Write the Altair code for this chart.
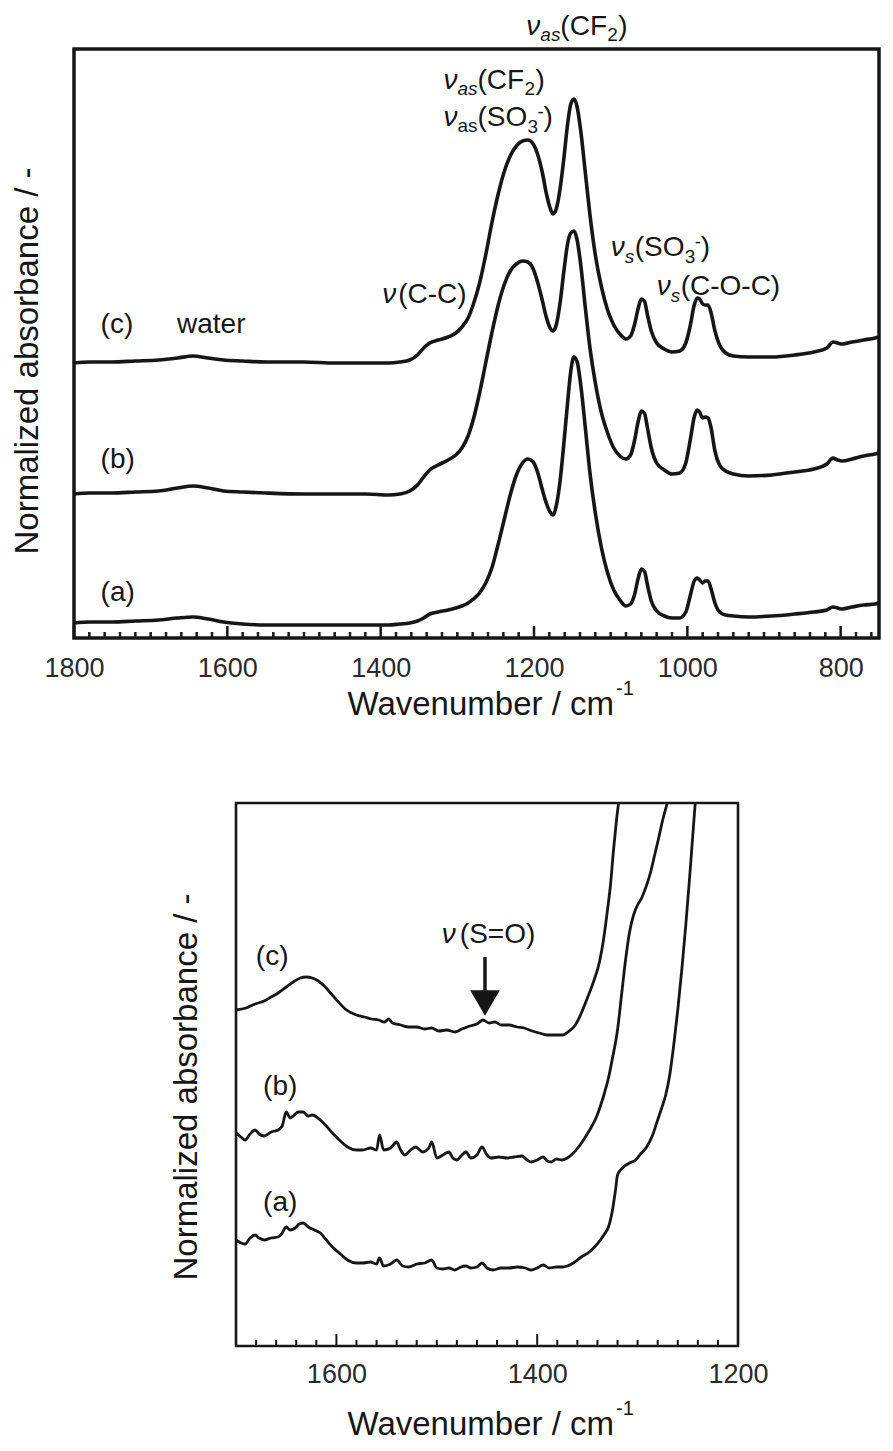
import altair as alt
import pandas as pd

FONT = "Liberation Sans"
INK = "#161616"
LABEL_INK = "#2a2a2a"

# ---------------- top panel (full range) ----------------
TOP_WN = [1800, 1780, 1750, 1720, 1690, 1665, 1645, 1625, 1605, 1580, 1550, 1500, 1460, 1420,
          1390, 1375, 1362, 1352, 1344, 1336, 1325, 1312, 1302, 1294, 1286, 1279, 1271, 1263,
          1255, 1247, 1239, 1231, 1223, 1215, 1208, 1201, 1195, 1189, 1184, 1179, 1175, 1171,
          1166, 1161, 1156, 1152, 1148, 1144, 1139, 1133, 1127, 1120, 1112, 1104, 1096, 1088,
          1080, 1074, 1069, 1064, 1060, 1056, 1052, 1047, 1040, 1030, 1020, 1010, 1002, 996,
          991, 987, 984, 980, 977, 973, 969, 964, 958, 950, 940, 920, 890, 860, 835, 818, 810,
          804, 798, 785, 770, 755, 750]

TOP_C = [2.75, 2.76, 2.76, 2.77, 2.78, 2.80, 2.82, 2.80, 2.78, 2.77, 2.76, 2.76, 2.75, 2.75,
         2.75, 2.76, 2.78, 2.83, 2.90, 2.95, 2.98, 3.01, 3.05, 3.11, 3.20, 3.34, 3.55, 3.83,
         4.15, 4.43, 4.66, 4.82, 4.92, 4.97, 4.98, 4.94, 4.83, 4.65, 4.45, 4.30, 4.24, 4.29,
         4.49, 4.80, 5.15, 5.34, 5.39, 5.32, 5.07, 4.65, 4.23, 3.83, 3.51, 3.28, 3.13, 3.04,
         2.99, 3.02, 3.13, 3.30, 3.39, 3.37, 3.23, 3.07, 2.95, 2.89, 2.86, 2.87, 2.95, 3.13,
         3.33, 3.40, 3.39, 3.34, 3.33, 3.33, 3.25, 3.07, 2.93, 2.85, 2.82, 2.81, 2.81, 2.83,
         2.86, 2.90, 2.96, 2.95, 2.94, 2.96, 2.98, 3.00, 3.01]

TOP_B = [1.44, 1.45, 1.45, 1.46, 1.47, 1.50, 1.52, 1.50, 1.47, 1.46, 1.45, 1.44, 1.44, 1.44,
         1.43, 1.44, 1.47, 1.53, 1.61, 1.68, 1.73, 1.78, 1.83, 1.90, 2.02, 2.19, 2.45, 2.75,
         3.05, 3.32, 3.53, 3.67, 3.74, 3.77, 3.76, 3.69, 3.55, 3.37, 3.21, 3.10, 3.07, 3.13,
         3.35, 3.67, 3.95, 4.05, 4.07, 3.99, 3.73, 3.30, 2.90, 2.55, 2.25, 2.05, 1.90, 1.82,
         1.79, 1.83, 1.97, 2.17, 2.27, 2.25, 2.10, 1.90, 1.75, 1.68, 1.64, 1.65, 1.75, 1.99,
         2.21, 2.28, 2.26, 2.20, 2.21, 2.20, 2.10, 1.87, 1.73, 1.67, 1.64, 1.62, 1.63, 1.66,
         1.69, 1.74, 1.80, 1.78, 1.77, 1.79, 1.82, 1.84, 1.85]

TOP_A = [0.15, 0.16, 0.16, 0.17, 0.18, 0.20, 0.21, 0.19, 0.16, 0.14, 0.13, 0.13, 0.13, 0.13,
         0.13, 0.14, 0.15, 0.17, 0.20, 0.24, 0.26, 0.28, 0.30, 0.32, 0.35, 0.39, 0.45, 0.55,
         0.70, 0.93, 1.18, 1.43, 1.63, 1.75, 1.79, 1.76, 1.65, 1.48, 1.35, 1.26, 1.23, 1.32,
         1.57, 1.95, 2.37, 2.67, 2.81, 2.77, 2.53, 2.10, 1.65, 1.25, 0.90, 0.65, 0.48, 0.38,
         0.32, 0.34, 0.43, 0.60, 0.69, 0.67, 0.53, 0.37, 0.27, 0.22, 0.20, 0.20, 0.26, 0.43,
         0.57, 0.60, 0.58, 0.55, 0.57, 0.57, 0.49, 0.35, 0.26, 0.23, 0.22, 0.21, 0.22, 0.24,
         0.26, 0.28, 0.31, 0.30, 0.29, 0.31, 0.33, 0.34, 0.35]

TOP_MAJOR = [1800, 1600, 1400, 1200, 1000, 800]
TOP_MINOR = [w for w in range(1780, 750, -20) if w not in TOP_MAJOR]

# ---------------- bottom panel (1700-1200 zoom) ----------------
BOT_RANGE = [1700, 1200]

BOT_C_WN = [1700, 1690, 1681, 1672, 1665, 1658, 1650, 1643, 1636, 1630, 1624, 1618, 1612, 1605,
            1598, 1590, 1580, 1572, 1565, 1558, 1552, 1548, 1544, 1536, 1528, 1520, 1512, 1505,
            1498, 1490, 1482, 1475, 1467, 1460, 1454, 1448, 1442, 1436, 1428, 1420, 1413, 1405,
            1398, 1390, 1382, 1375, 1368, 1362, 1356, 1350, 1344, 1338, 1334, 1330, 1327, 1324,
            1321, 1318, 1314]
BOT_C = [3.36, 3.38, 3.42, 3.45, 3.49, 3.53, 3.59, 3.64, 3.68, 3.69, 3.68, 3.65, 3.60, 3.52,
         3.44, 3.36, 3.31, 3.29, 3.27, 3.26, 3.24, 3.27, 3.23, 3.21, 3.19, 3.19, 3.17, 3.18,
         3.15, 3.16, 3.14, 3.17, 3.20, 3.22, 3.26, 3.23, 3.24, 3.21, 3.21, 3.19, 3.18, 3.15,
         3.13, 3.11, 3.11, 3.11, 3.15, 3.21, 3.33, 3.48, 3.64, 3.84, 4.06, 4.36, 4.61, 4.96,
         5.26, 5.51, 5.86]

BOT_B_WN = [1700, 1695, 1691, 1686, 1681, 1677, 1672, 1665, 1658, 1654, 1650, 1646, 1643, 1638,
            1633, 1628, 1624, 1616, 1610, 1604, 1596, 1589, 1580, 1574, 1566, 1560, 1557, 1553,
            1546, 1540, 1536, 1532, 1526, 1521, 1514, 1508, 1505, 1500, 1494, 1488, 1484, 1480,
            1475, 1471, 1466, 1460, 1455, 1450, 1446, 1438, 1430, 1423, 1415, 1410, 1406, 1400,
            1394, 1390, 1386, 1381, 1375, 1370, 1364, 1358, 1352, 1346, 1341, 1337, 1333, 1329,
            1325, 1320, 1316, 1312, 1308, 1304, 1300, 1296, 1292, 1287, 1283, 1279, 1275, 1271,
            1267]
BOT_B = [2.13, 2.09, 2.06, 2.12, 2.16, 2.12, 2.10, 2.14, 2.16, 2.20, 2.34, 2.28, 2.30, 2.34,
         2.34, 2.30, 2.31, 2.26, 2.20, 2.13, 2.05, 1.99, 1.96, 1.96, 1.98, 1.96, 2.11, 1.96,
         1.98, 2.04, 1.96, 1.91, 1.96, 1.99, 1.94, 1.98, 2.04, 1.88, 1.91, 1.94, 1.88, 1.86,
         1.91, 1.94, 1.88, 1.91, 1.99, 1.91, 1.88, 1.89, 1.88, 1.89, 1.90, 1.86, 1.84, 1.86,
         1.89, 1.85, 1.84, 1.87, 1.86, 1.88, 1.93, 2.00, 2.09, 2.19, 2.29, 2.40, 2.53, 2.68,
         2.88, 3.16, 3.51, 3.86, 4.14, 4.31, 4.41, 4.48, 4.58, 4.74, 4.91, 5.08, 5.26, 5.41,
         5.56]

BOT_A_WN = [1700, 1695, 1691, 1686, 1681, 1677, 1672, 1665, 1658, 1654, 1650, 1646, 1641, 1637,
            1633, 1628, 1622, 1616, 1610, 1604, 1596, 1589, 1580, 1574, 1566, 1560, 1557, 1553,
            1546, 1540, 1534, 1528, 1520, 1512, 1505, 1500, 1494, 1488, 1482, 1476, 1471, 1466,
            1460, 1455, 1450, 1444, 1436, 1428, 1420, 1412, 1406, 1400, 1394, 1388, 1381, 1375,
            1370, 1364, 1356, 1348, 1342, 1337, 1333, 1329, 1325, 1322, 1320, 1317, 1313, 1308,
            1302, 1297, 1291, 1285, 1280, 1276, 1272, 1268, 1264, 1260, 1256, 1252, 1248, 1245,
            1242, 1240]
BOT_A = [1.06, 1.03, 1.02, 1.08, 1.11, 1.08, 1.06, 1.08, 1.09, 1.13, 1.19, 1.16, 1.18, 1.22,
         1.23, 1.19, 1.16, 1.13, 1.06, 0.99, 0.92, 0.86, 0.83, 0.83, 0.84, 0.82, 0.88, 0.80,
         0.82, 0.86, 0.80, 0.79, 0.82, 0.83, 0.86, 0.78, 0.77, 0.78, 0.76, 0.79, 0.80, 0.78,
         0.79, 0.83, 0.78, 0.76, 0.78, 0.78, 0.79, 0.78, 0.76, 0.78, 0.81, 0.78, 0.79, 0.79,
         0.80, 0.83, 0.89, 0.94, 1.00, 1.06, 1.12, 1.19, 1.36, 1.56, 1.71, 1.76, 1.80, 1.83,
         1.86, 1.92, 1.99, 2.11, 2.26, 2.38, 2.51, 2.71, 3.01, 3.36, 3.76, 4.21, 4.71, 5.11,
         5.51, 5.76]

BOT_MAJOR = [1600, 1400, 1200]
BOT_MINOR = [w for w in range(1680, 1200, -20) if w not in BOT_MAJOR]

SO_ARROW_WN = 1452


def long_df(parts):
    rows = []
    for name, wn, vals in parts:
        assert len(wn) == len(vals), name
        for i, (w, a) in enumerate(zip(wn, vals)):
            rows.append({"w": w, "a": a, "s": name, "i": i})
    return pd.DataFrame(rows)


def one(**kw):
    return pd.DataFrame({k: [v] for k, v in kw.items()})


def label(X, Y, w, a, segs):
    out = []
    for text, dx, dy, size, italic in segs:
        kw = dict(text=text, align="left", baseline="alphabetic", dx=dx, dy=dy,
                  font=FONT, fontSize=size, color=INK)
        if italic:
            kw["fontStyle"] = "italic"
        out.append(alt.Chart(one(w=w, a=a)).mark_text(**kw).encode(x=X, y=Y))
    return out


def plain(X, Y, w, a, text, size=28):
    return alt.Chart(one(w=w, a=a)).mark_text(
        text=text, align="center", baseline="middle", font=FONT, fontSize=size, color=INK
    ).encode(x=X, y=Y)


def ticks(X, values, H, length, width):
    return alt.Chart(pd.DataFrame({"w": values})).mark_rule(
        color=INK, strokeWidth=width
    ).encode(x=X, y=alt.value(H), y2=alt.value(H - length))


def fixed_text(x, y, text, size, align="left", angle=None, baseline="alphabetic"):
    kw = dict(text=text, align=align, baseline=baseline, font=FONT, fontSize=size, color=INK)
    if angle is not None:
        kw["angle"] = angle
    return alt.Chart(one(k=0)).mark_text(**kw).encode(x=alt.value(x), y=alt.value(y))


def spacer(x1, x2, y):
    return alt.Chart(one(k=0)).mark_rule(stroke="white", strokeWidth=1).encode(
        x=alt.value(x1), x2=alt.value(x2), y=alt.value(y))


S, M = 19, 28
TICK_FS = 27
TITLE_FS = 33

# ================= top chart =================
W1, H1 = 805, 589
X1 = alt.X("w:Q",
           scale=alt.Scale(domain=[750, 1800], reverse=True, nice=False, zero=False),
           axis=alt.Axis(values=TOP_MAJOR, ticks=False, tickSize=0, domain=False, grid=False,
                         labelFont=FONT, labelFontSize=TICK_FS, labelColor=LABEL_INK,
                         labelPadding=17, labelFlush=False, labelOverlap=False,
                         format="d", title=None))
Y1 = alt.Y("a:Q", scale=alt.Scale(domain=[0, 5.89], nice=False, zero=False), axis=None)

top_df = long_df([("c", TOP_WN, TOP_C), ("b", TOP_WN, TOP_B), ("a", TOP_WN, TOP_A)])
top_lines = alt.Chart(top_df).mark_line(
    color=INK, strokeWidth=3.6, interpolate="monotone", strokeJoin="round"
).encode(x=X1, y=Y1, detail="s:N", order="i:Q")

top_layers = [top_lines,
              ticks(X1, TOP_MAJOR, H1, 12, 2.5),
              ticks(X1, TOP_MINOR, H1, 6, 2.5)]
top_layers += label(X1, Y1, 1210, 6.03, [("ν", 0, 0, M, True), ("as", 14, 6, S, True),
                                          ("(CF", 34, 0, M, False), ("2", 81, 6, S, False),
                                          (")", 92, 0, M, False)])
top_layers += label(X1, Y1, 1318, 5.49, [("ν", 0, 0, M, True), ("as", 14, 6, S, True),
                                          ("(CF", 34, 0, M, False), ("2", 81, 6, S, False),
                                          (")", 92, 0, M, False)])
top_layers += label(X1, Y1, 1318, 5.12, [("ν", 0, 0, M, True), ("as", 14, 6, S, False),
                                          ("(SO", 34, 0, M, False), ("3", 84, 7, S, False),
                                          ("-", 94, -8, S, False), (")", 100, 0, M, False)])
top_layers += label(X1, Y1, 1100, 3.82, [("ν", 0, 0, M, True), ("s", 14, 7, S, True),
                                          ("(SO", 24, 0, M, False), ("3", 74, 7, S, False),
                                          ("-", 84, -8, S, False), (")", 90, 0, M, False)])
top_layers += label(X1, Y1, 1040, 3.43, [("ν", 0, 0, M, True), ("s", 14, 7, S, True),
                                          ("(C-O-C)", 24, 0, M, False)])
top_layers += label(X1, Y1, 1398, 3.35, [("ν", 0, 0, M, True), ("(C-C)", 16, 0, M, False)])
top_layers += [plain(X1, Y1, 1744, 3.13, "(c)"),
               plain(X1, Y1, 1621, 3.13, "water"),
               plain(X1, Y1, 1743, 1.78, "(b)"),
               plain(X1, Y1, 1743, 0.45, "(a)")]
top_layers += [fixed_text(540, 666, "Wavenumber / cm", TITLE_FS, align="right"),
               fixed_text(542, 646, "-1", 20, align="left"),
               fixed_text(-46, 312, "Normalized absorbance / -", TITLE_FS, align="center",
                          angle=270, baseline="middle"),
               spacer(-71, 0, -46),
               spacer(-71, 0, 683)]

top = alt.layer(*top_layers).properties(
    width=W1, height=H1, view=alt.ViewBackground(stroke=INK, strokeWidth=3.5))

# ================= bottom chart =================
# plot origin is shared with the top panel; the x scale reaches further left so that
# the framed 1700-1200 window sits where it does in the figure
W2, H2 = 664, 543
X2 = alt.X("w:Q",
           scale=alt.Scale(domain=[1200, 1861.35], reverse=True, nice=False, zero=False),
           axis=alt.Axis(values=BOT_MAJOR, ticks=False, tickSize=0, domain=False, grid=False,
                         labelFont=FONT, labelFontSize=TICK_FS, labelColor=LABEL_INK,
                         labelPadding=15, labelFlush=False, labelOverlap=False,
                         format="d", title=None))
Y2 = alt.Y("a:Q", scale=alt.Scale(domain=[0, 5.43], nice=False, zero=False), axis=None)

frame = alt.Chart(one(w=BOT_RANGE[0], w2=BOT_RANGE[1])).mark_rect(
    fillOpacity=0, stroke=INK, strokeWidth=2.6
).encode(x=X2, x2="w2:Q", y=alt.value(0), y2=alt.value(H2))

bot_df = long_df([("c", BOT_C_WN, BOT_C), ("b", BOT_B_WN, BOT_B), ("a", BOT_A_WN, BOT_A)])
bot_lines = alt.Chart(bot_df).mark_line(
    color=INK, strokeWidth=2.8, interpolate="monotone", clip=True, strokeJoin="round"
).encode(x=X2, y=Y2, detail="s:N", order="i:Q")

arrow_shaft = alt.Chart(one(w=SO_ARROW_WN, a=3.89, a2=3.55)).mark_rule(
    color=INK, strokeWidth=3.5).encode(x=X2, y=Y2, y2="a2:Q")
arrow_head = alt.Chart(one(w=SO_ARROW_WN, a=3.43)).mark_point(
    shape="triangle-down", size=880, filled=True, color=INK, opacity=1).encode(x=X2, y=Y2)

bot_layers = [frame, bot_lines,
              ticks(X2, BOT_MAJOR, H2, 12, 2),
              ticks(X2, BOT_MINOR, H2, 6, 2),
              arrow_shaft, arrow_head]
bot_layers += label(X2, Y2, 1495, 4.03, [("ν", 0, 0, M, True), ("(S=O)", 18, 0, M, False)])
bot_layers += [plain(X2, Y2, 1664, 3.89, "(c)"),
               plain(X2, Y2, 1656, 2.59, "(b)"),
               plain(X2, Y2, 1656, 1.43, "(a)")]
bot_layers += [fixed_text(540, 632, "Wavenumber / cm", TITLE_FS, align="right"),
               fixed_text(542, 612, "-1", 20, align="left"),
               fixed_text(113, 284, "Normalized absorbance / -", TITLE_FS, align="center",
                          angle=270, baseline="middle"),
               spacer(-71, 0, -67)]

bottom = alt.layer(*bot_layers).properties(
    width=W2, height=H2, view=alt.ViewBackground(stroke="transparent", strokeWidth=0))

chart = alt.vconcat(top, bottom, spacing=0).properties(padding=0, background="white")

chart.save("out.html", embed_options={"renderer": "svg", "actions": False})
